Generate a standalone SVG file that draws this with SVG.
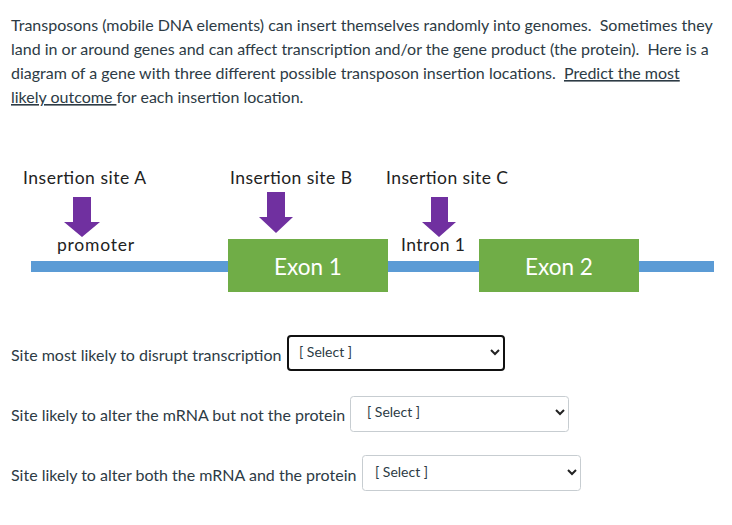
<svg xmlns="http://www.w3.org/2000/svg" width="732" height="525" viewBox="0 0 732 525">
<style>
.p{font-family:Lato,"Open Sans",sans-serif;font-size:16px;fill:#2d3b45;white-space:pre}
.u{text-decoration:underline}
.d{font-family:Lato,"Open Sans",sans-serif;font-size:17.5px;fill:#222}
.ex{font-family:Lato,"Open Sans",sans-serif;font-size:22.5px;fill:#fff;text-anchor:middle}
.arrow{fill:#7030a0}
.sel{fill:#fff;stroke:#c7cdd1;stroke-width:1}
.st{font-family:Lato,"Open Sans",sans-serif;font-size:14px;fill:#2d3b45}
.chev{fill:none;stroke:#222;stroke-width:2}
</style>
<rect width="732" height="525" fill="#fff"/>
<g id="intro">
<text class="p" x="11" y="31" xml:space="preserve">Transposons (mobile DNA elements) can insert themselves randomly into genomes.  Sometimes they</text>
<text class="p" x="11" y="55" xml:space="preserve">land in or around genes and can affect transcription and/or the gene product (the protein).  Here is a</text>
<text class="p" x="11" y="79" xml:space="preserve">diagram of a gene with three different possible transposon insertion locations.  <tspan class="u">Predict the most</tspan></text>
<text class="p" x="11" y="103" xml:space="preserve"><tspan class="u">likely outcome </tspan>for each insertion location.</text>
</g>
<g id="dna">
<rect x="31" y="261" width="683" height="11" fill="#5b9bd5"/>
</g>
<g id="exon1">
<rect x="228" y="239" width="160" height="53" fill="#70ad47"/>
<text class="ex" x="308" y="275">Exon 1</text>
</g>
<g id="exon2">
<rect x="479" y="239" width="160" height="53" fill="#70ad47"/>
<text class="ex" x="559" y="275">Exon 2</text>
</g>
<g id="labels">
<text class="d" x="57" y="251" textLength="77">promoter</text>
<text class="d" x="401" y="251" textLength="64">Intron 1</text>
</g>
<g id="siteA">
<text class="d" x="23" y="184" textLength="123">Insertion site A</text>
<polygon class="arrow" points="73,197 91,197 91,222 100,222 82,237 64,222 73,222"/>
</g>
<g id="siteB">
<text class="d" x="230" y="184" textLength="122">Insertion site B</text>
<polygon class="arrow" points="267,192 285,192 285,217 293,217 276,233 259,217 267,217"/>
</g>
<g id="siteC">
<text class="d" x="386" y="184" textLength="122">Insertion site C</text>
<polygon class="arrow" points="431,197 448,197 448,222 456,222 439,237 422,222 431,222"/>
</g>
<g id="q1">
<text class="p" x="11" y="361">Site most likely to disrupt transcription</text>
<rect x="288" y="336" width="216" height="34" rx="3" fill="#fff" stroke="#111" stroke-width="2"/>
<text class="st" x="299" y="357">[ Select ]</text>
<polyline class="chev" points="491,350 495,354 499,350"/>
</g>
<g id="q2">
<text class="p" x="11" y="421">Site likely to alter the mRNA but not the protein</text>
<rect class="sel" x="350.5" y="396.5" width="218" height="35" rx="3"/>
<text class="st" x="367" y="417">[ Select ]</text>
<polyline class="chev" points="556,410 560,414 564,410"/>
</g>
<g id="q3">
<text class="p" x="11" y="481">Site likely to alter both the mRNA and the protein</text>
<rect class="sel" x="362.5" y="455.5" width="218" height="35" rx="3"/>
<text class="st" x="375" y="477">[ Select ]</text>
<polyline class="chev" points="568,470 572,474 576,470"/>
</g>
<g id="connectors"/>
</svg>
